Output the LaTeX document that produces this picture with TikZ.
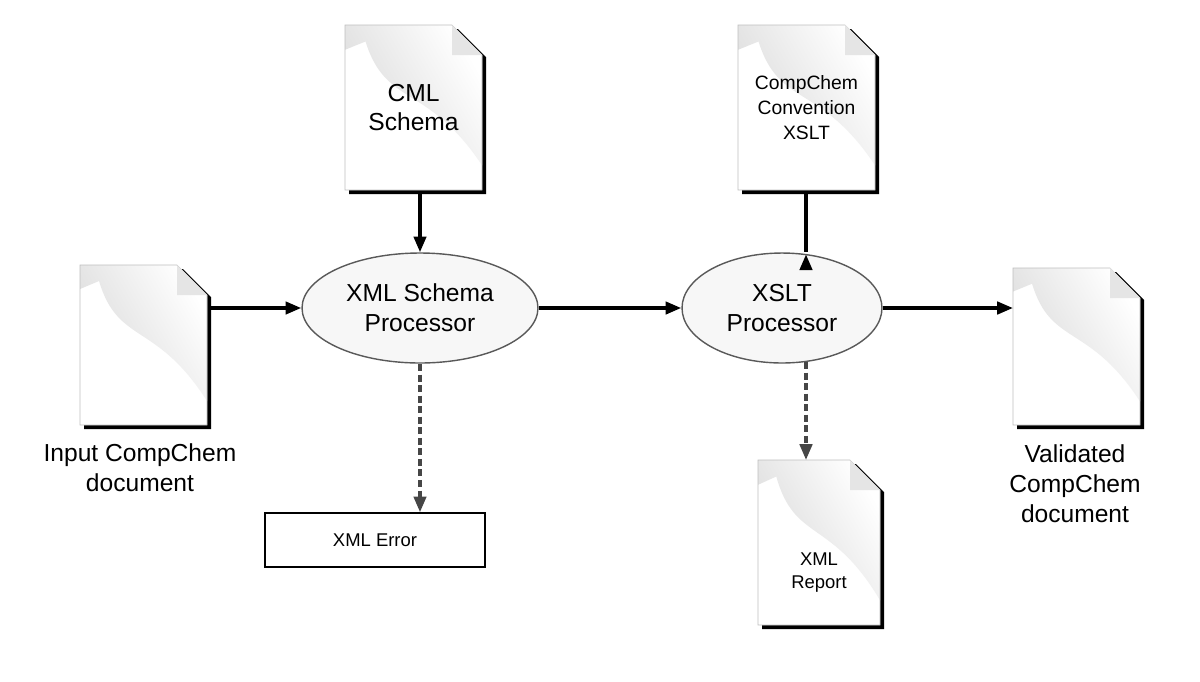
\documentclass[tikz,border=0pt]{standalone}
\usepackage{fontspec}
\setmainfont{Liberation Sans}
\usetikzlibrary{calc,arrows.meta,shapes.geometric}

\tikzset{
  x=0.02cm, y=-0.02cm,
  proc/.style={ellipse, draw=gray!70!black, fill=gray!6, thick, font=\fontsize{14}{17}\selectfont, align=center, inner sep=0pt},
  flow/.style={-{Triangle[length=9pt,width=7pt]}, line width=2pt},
  aside/.style={-{Triangle[length=9pt,width=7pt]}, line width=2pt, dashed, dash pattern=on 4pt off 2pt, gray!55!black},
  lbl/.style={font=\fontsize{14}{17}\selectfont, align=center},
}
% document icon: name, left, top, right, bottom, text, font
\newcommand\docicon[7]{%
  \coordinate (#1-nw) at (#2,#3);
  \coordinate (#1-se) at (#4,#5);
  \fill[black] (#2+4,#3+28) -- (#4-28+4,#3+4) -- (#4+4,#3+28+4) -- (#4+4,#5+4) -- (#2+4,#5+4) -- cycle;
  \fill[white] (#2,#3) -- (#4-30,#3) -- (#4,#3+30) -- (#4,#5) -- (#2,#5) -- cycle;
  \shade[left color=gray!30, right color=white, shading angle=120]
    (#2,#3) -- (#4-30,#3) -- (#4,#3+30) -- (#4,{#5-0.15*(#5-#3)})
    .. controls ({#4-0.4*(#4-#2)},{#3+0.35*(#5-#3)}) and ({#2+0.3*(#4-#2)},{#3+0.5*(#5-#3)}) .. ({#2+0.15*(#4-#2)},{#3+0.1*(#5-#3)})
    -- (#2,{#3+0.15*(#5-#3)}) -- cycle;
  \draw[gray!50] (#2,#3) -- (#4-30,#3) -- (#4,#3+30) -- (#4,#5) -- (#2,#5) -- cycle;
  \fill[gray!20] (#4-30,#3) -- (#4-30,#3+30) -- (#4,#3+30) -- cycle;
  \node[font=#7, align=center] (#1) at ({(#2+#4)/2},{(#3+#5)/2}) {#6};
}

\begin{document}
\begin{tikzpicture}
\useasboundingbox (0,0) rectangle (1200,681);

\docicon{input}{80}{265}{207}{425}{}{\small}
\docicon{cml}{345}{25}{482}{190}{CML\\Schema}{\fontsize{14}{17}\selectfont}
\docicon{conv}{738}{25}{875}{190}{CompChem\\Convention\\XSLT}{\fontsize{11}{14}\selectfont}
\docicon{valid}{1013}{268}{1140}{425}{}{\small}
\docicon{report}{758}{460}{880}{625}{\\[28pt]XML\\Report}{\fontsize{10.5}{13}\selectfont}

\node[proc, minimum width=4.72cm, minimum height=2.2cm] (schema) at (420,308) {XML Schema\\Processor};
\node[proc, minimum width=4.0cm, minimum height=2.2cm] (xslt) at (782,308) {XSLT\\Processor};

\node[draw, thick, minimum width=4.4cm, minimum height=1.08cm, font=\fontsize{10.5}{13}\selectfont] (err) at (375,540) {XML Error};

\node[lbl] (inlbl) at (140,468) {Input CompChem\\document};
\node[lbl] (vallbl) at (1075,484) {Validated\\CompChem\\document};

\coordinate (a1) at (211,308);
\draw[flow] (a1) -- (schema.west);
\coordinate (a2) at (420,194);
\draw[flow] (a2) -- (schema.north);
\draw[flow] (schema.east) -- (xslt.west);
\coordinate (a3) at (806,194);
\draw[flow] (a3) -- (xslt.north -| a3) ++(0,2);
\coordinate (vin) at (1013,308);
\draw[flow] (xslt.east) -- (vin);
\coordinate (e1) at (420,364);
\draw[aside] (e1) -- (err.north -| e1);
\coordinate (r1) at (806,362);
\coordinate (rin) at (806,460);
\draw[aside] (r1) -- (rin);
\end{tikzpicture}
\end{document}
